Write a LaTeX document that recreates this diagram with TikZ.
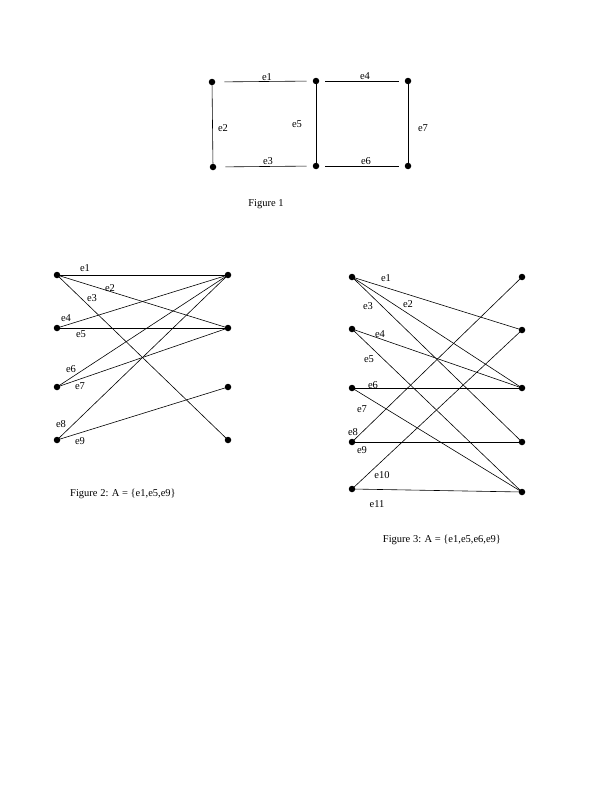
\documentclass[tikz,border=0pt]{standalone}
\usepackage{fontspec}
\setmainfont{Liberation Serif}
\begin{document}
\begin{tikzpicture}[x=1pt,y=-1pt,
  dot/.style={circle,fill=black,inner sep=0pt,minimum size=6.5pt},
  lab/.style={inner sep=0pt,font=\fontsize{10.5}{12}\selectfont},
  ln/.style={line width=0.6pt},
  hl/.style={ln,shorten <=9pt,shorten >=6pt}]
\useasboundingbox (0,0) rectangle (612,792);
% Figure 1
\node[dot] (a1) at (212,82) {};
\node[dot] (a2) at (316,81) {};
\node[dot] (a3) at (408,81) {};
\node[dot] (b1) at (213,167) {};
\node[dot] (b2) at (316,166) {};
\node[dot] (b3) at (408,166) {};
\draw[hl] (a1) -- (a2);
\draw[hl,shorten <=6pt] (a2) -- (a3);
\draw[hl] (b1) -- (b2);
\draw[hl,shorten <=6pt] (b2) -- (b3);
\draw[ln] (a1) -- (b1);
\draw[ln] (a2) -- (b2);
\draw[ln] (a3) -- (b3);
\node[lab] at (267,77) {e1};
\node[lab] at (223,128) {e2};
\node[lab] at (268,161) {e3};
\node[lab] at (365,76) {e4};
\node[lab] at (297,124) {e5};
\node[lab] at (366,161) {e6};
\node[lab] at (423,128) {e7};
\node[lab] (f1) at (266,204) {Figure 1};
% Figure 2
\foreach \i/\y in {1/275,2/328,3/387,4/440}{
  \node[dot] (p\i) at (57,\y) {};
  \node[dot] (q\i) at (228,\y) {};
}
\foreach \s/\t in {1/1,1/2,1/4,2/1,2/2,3/1,3/2,4/1,4/3}
  \draw[ln] (p\s.center) -- (q\t.center);
\node[lab] at (85,268) {e1};
\node[lab] at (110,288) {e2};
\node[lab] at (92,298) {e3};
\node[lab] at (66,318) {e4};
\node[lab] at (81,334) {e5};
\node[lab] at (71,369) {e6};
\node[lab] at (80,386) {e7};
\node[lab] at (61,424) {e8};
\node[lab] at (80,441) {e9};
\node[lab] (f2) at (123,494) {Figure 2: A = \{e1,e5,e9\}};
% Figure 3
\foreach \i/\y/\z in {1/277/277,2/329/330,3/388/388,4/442/442,5/489/492}{
  \node[dot] (u\i) at (352,\y) {};
  \node[dot] (v\i) at (522,\z) {};
}
\foreach \s/\t in {1/2,1/3,1/4,2/3,2/5,3/3,3/5,4/1,4/4,5/2,5/5}
  \draw[ln] (u\s.center) -- (v\t.center);
\node[lab] at (386,278) {e1};
\node[lab] at (408,304) {e2};
\node[lab] at (368,306) {e3};
\node[lab] at (380,334) {e4};
\node[lab] at (369,359) {e5};
\node[lab] at (373,385) {e6};
\node[lab] at (362,409) {e7};
\node[lab] at (353,432) {e8};
\node[lab] at (362,450) {e9};
\node[lab] at (382,475) {e10};
\node[lab] at (377,504) {e11};
\node[lab] (f3) at (442,540) {Figure 3: A = \{e1,e5,e6,e9\}};
\end{tikzpicture}
\end{document}
